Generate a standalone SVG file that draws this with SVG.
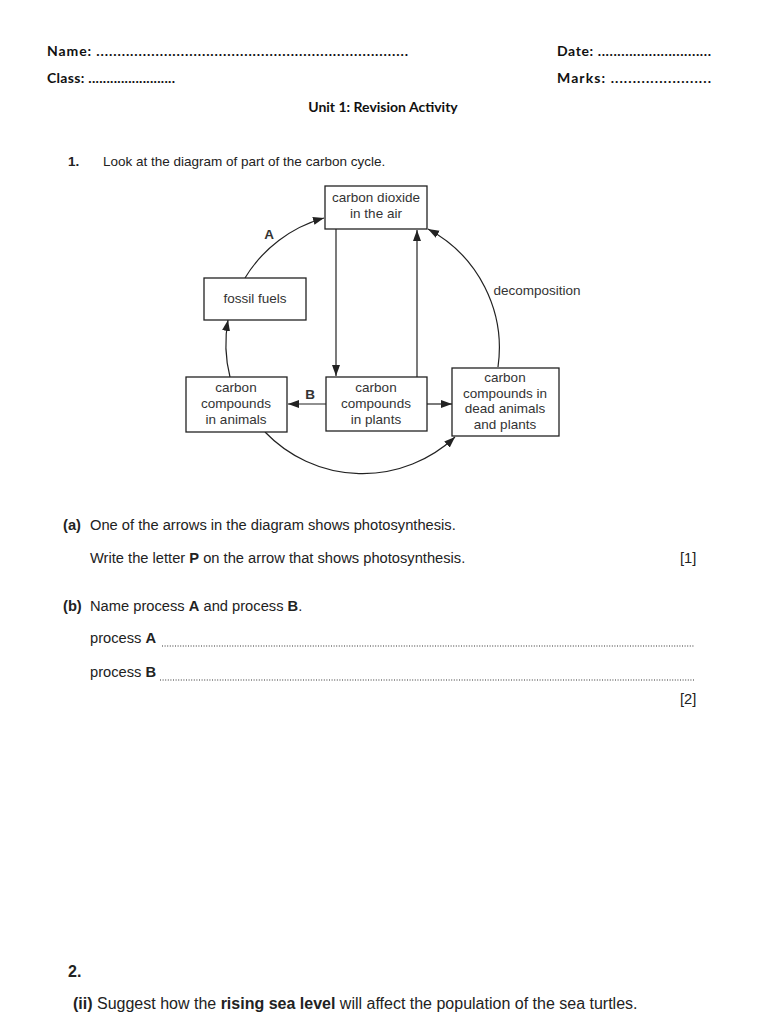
<svg xmlns="http://www.w3.org/2000/svg" width="768" height="1024" viewBox="0 0 768 1024">
<style>
.hd{font-family:"Century Gothic","Lato","Liberation Sans",sans-serif;font-weight:bold;font-size:14px;fill:#111}
.t{font-family:"Liberation Sans",Arial,sans-serif;font-size:14.7px;fill:#222}
.q1{font-size:13.5px}
.q2{font-size:16px}
.b{font-weight:bold}
.d{font-family:"Liberation Sans",Arial,sans-serif;font-size:13.5px;fill:#333;text-anchor:middle}
.box{fill:#fff;stroke:#222;stroke-width:1.3}
.c{fill:none;stroke:#222;stroke-width:1.2}
.dot{stroke:#333;stroke-width:1.2;stroke-dasharray:1 1.6}
</style>
<defs>
<marker id="ah" markerUnits="userSpaceOnUse" markerWidth="12" markerHeight="9" refX="11" refY="4" orient="auto">
<path d="M0,0 L11,4 L0,8 z" fill="#222"/>
</marker>
</defs>
<rect width="768" height="1024" fill="#fff"/>

<g id="header">
<text class="hd" x="47" y="56" textLength="361" lengthAdjust="spacing">Name: ..........................................................................</text>
<text class="hd" x="557" y="56" textLength="154" lengthAdjust="spacing">Date: .............................</text>
<text class="hd" x="47" y="83" textLength="128" lengthAdjust="spacing">Class: ........................</text>
<text class="hd" x="557" y="83" textLength="154" lengthAdjust="spacing">Marks: .......................</text>
<text class="hd" x="383" y="112" text-anchor="middle">Unit 1: Revision Activity</text>
</g>

<g id="q1">
<text class="t q1 b" x="68" y="166">1.</text>
<text class="t q1" x="103" y="166">Look at the diagram of part of the carbon cycle.</text>
</g>

<g id="connectors">
<path class="c" d="M245,278 A135,135 0 0 1 324,218" marker-end="url(#ah)"/>
<path class="c" d="M498,367 A135,135 0 0 0 428,229" marker-end="url(#ah)"/>
<path class="c" d="M230,377 A135,135 0 0 1 228,320" marker-end="url(#ah)"/>
<path class="c" d="M265,432 A135,135 0 0 0 455,437" marker-end="url(#ah)"/>
<line class="c" x1="336" y1="229" x2="336" y2="376" marker-end="url(#ah)"/>
<line class="c" x1="417" y1="377" x2="417" y2="230" marker-end="url(#ah)"/>
<line class="c" x1="326" y1="404" x2="288" y2="404" marker-end="url(#ah)"/>
<line class="c" x1="427" y1="404" x2="452" y2="404" marker-end="url(#ah)"/>
<text class="d b" x="269" y="239">A</text>
<text class="d b" x="310" y="399">B</text>
<text class="d" x="537" y="295">decomposition</text>
</g>

<g id="co2">
<rect class="box" x="325" y="186" width="102" height="43"/>
<text class="d" x="376" y="202">carbon dioxide</text>
<text class="d" x="376" y="218">in the air</text>
</g>
<g id="fossil">
<rect class="box" x="204" y="278" width="102" height="42"/>
<text class="d" x="255" y="303">fossil fuels</text>
</g>
<g id="animals">
<rect class="box" x="186" y="377" width="101" height="55"/>
<text class="d" x="236" y="392">carbon</text>
<text class="d" x="236" y="408">compounds</text>
<text class="d" x="236" y="424">in animals</text>
</g>
<g id="plants">
<rect class="box" x="326" y="377" width="101" height="54"/>
<text class="d" x="376" y="392">carbon</text>
<text class="d" x="376" y="408">compounds</text>
<text class="d" x="376" y="424">in plants</text>
</g>
<g id="dead">
<rect class="box" x="452" y="368" width="107" height="68"/>
<text class="d" x="505" y="382">carbon</text>
<text class="d" x="505" y="398">compounds in</text>
<text class="d" x="505" y="413">dead animals</text>
<text class="d" x="505" y="429">and plants</text>
</g>

<g id="parts">
<text class="t b" x="63" y="530">(a)</text>
<text class="t" x="90" y="530">One of the arrows in the diagram shows photosynthesis.</text>
<text class="t" x="90" y="563">Write the letter <tspan class="b">P</tspan> on the arrow that shows photosynthesis.</text>
<text class="t" x="680" y="563">[1]</text>
<text class="t b" x="63" y="611">(b)</text>
<text class="t" x="90" y="611">Name process <tspan class="b">A</tspan> and process <tspan class="b">B</tspan>.</text>
<text class="t" x="90" y="643">process <tspan class="b">A</tspan></text>
<line class="dot" x1="162" y1="646" x2="695" y2="646"/>
<text class="t" x="90" y="677">process <tspan class="b">B</tspan></text>
<line class="dot" x1="160" y1="680" x2="695" y2="680"/>
<text class="t" x="680" y="704">[2]</text>
</g>

<g id="q2">
<text class="t q2 b" x="68" y="977">2.</text>
<text class="t q2" x="73" y="1009"><tspan class="b">(ii)</tspan>  Suggest how the <tspan class="b">rising sea level</tspan> will affect the population of the sea turtles.</text>
</g>
</svg>
